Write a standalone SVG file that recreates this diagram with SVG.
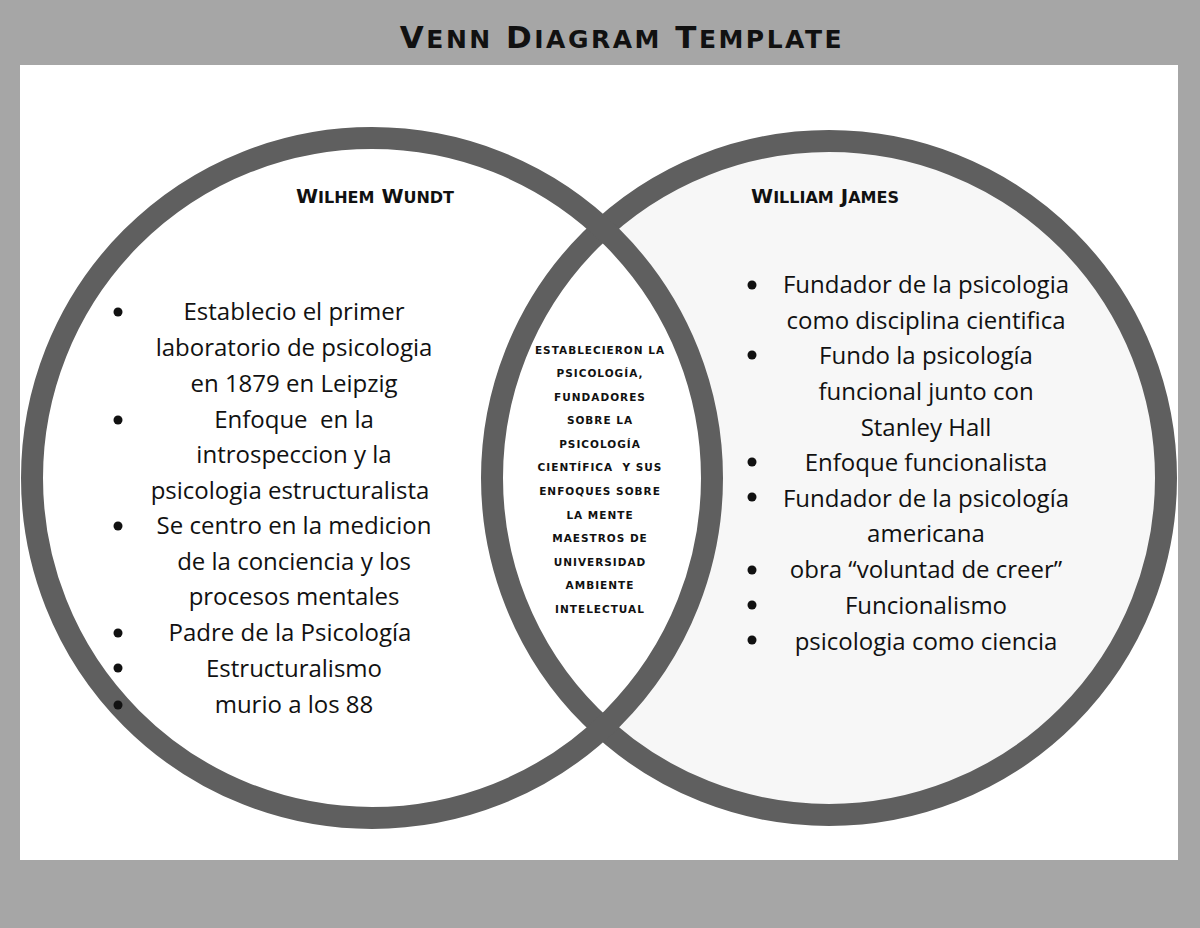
<svg xmlns="http://www.w3.org/2000/svg" width="1200" height="928" viewBox="0 0 1200 928">
<style>
.h{font-family:"DejaVu Sans",sans-serif;font-weight:bold;fill:#111;text-anchor:middle}
.t{font-family:"Open Sans",sans-serif;font-size:24px;fill:#111;text-anchor:middle}
.c{font-family:"DejaVu Sans",sans-serif;font-weight:bold;font-size:10.5px;letter-spacing:1px;fill:#111;text-anchor:middle}
.b{fill:#111}
.ring{fill:none;stroke:#5f5f5f;stroke-width:22}
</style>
<rect width="1200" height="928" fill="#a6a6a6"/>
<rect x="20" y="65" width="1158" height="795" fill="#fff"/>
<text class="h" x="622" y="48" font-size="31" letter-spacing="2.5">V<tspan font-size="25">ENN</tspan> D<tspan font-size="25">IAGRAM</tspan> T<tspan font-size="25">EMPLATE</tspan></text>
<circle cx="829" cy="478" r="337" fill="#f7f7f7"/>
<path d="M601,228 A340,340 0 0 1 601,728 A337,337 0 0 1 601,228 Z" fill="#fff"/>
<g id="right-circle"><circle class="ring" cx="829" cy="478" r="337"/></g>
<g id="left-circle"><circle class="ring" cx="372" cy="478" r="340"/></g>
<g id="wundt">
<text class="h" x="375" y="203" font-size="20">W<tspan font-size="16">ILHEM</tspan> W<tspan font-size="16">UNDT</tspan></text>
<g class="b"><circle cx="118" cy="312" r="4.5"/><circle cx="118" cy="420" r="4.5"/><circle cx="118" cy="526" r="4.5"/><circle cx="118" cy="633" r="4.5"/><circle cx="118" cy="668" r="4.5"/><circle cx="118" cy="705" r="4.5"/></g>
<text class="t" x="294" y="320">Establecio el primer</text>
<text class="t" x="294" y="356">laboratorio de psicologia</text>
<text class="t" x="294" y="392">en 1879 en Leipzig</text>
<text class="t" x="294" y="428" xml:space="preserve">Enfoque  en la</text>
<text class="t" x="294" y="463">introspeccion y la</text>
<text class="t" x="290" y="499">psicologia estructuralista</text>
<text class="t" x="294" y="534">Se centro en la medicion</text>
<text class="t" x="294" y="570">de la conciencia y los</text>
<text class="t" x="294" y="605">procesos mentales</text>
<text class="t" x="290" y="641">Padre de la Psicología</text>
<text class="t" x="294" y="677">Estructuralismo</text>
<text class="t" x="294" y="713">murio a los 88</text>
</g>
<g id="james">
<text class="h" x="825" y="203" font-size="20">W<tspan font-size="16">ILLIAM</tspan> J<tspan font-size="16">AMES</tspan></text>
<g class="b"><circle cx="752" cy="285" r="4.5"/><circle cx="752" cy="355" r="4.5"/><circle cx="752" cy="462" r="4.5"/><circle cx="752" cy="497" r="4.5"/><circle cx="752" cy="570" r="4.5"/><circle cx="752" cy="605" r="4.5"/><circle cx="752" cy="640" r="4.5"/></g>
<text class="t" x="926" y="293">Fundador de la psicologia</text>
<text class="t" x="926" y="329">como disciplina cientifica</text>
<text class="t" x="926" y="364">Fundo la psicología</text>
<text class="t" x="926" y="400">funcional junto con</text>
<text class="t" x="926" y="436">Stanley Hall</text>
<text class="t" x="926" y="471">Enfoque funcionalista</text>
<text class="t" x="926" y="507">Fundador de la psicología</text>
<text class="t" x="926" y="542">americana</text>
<text class="t" x="926" y="578">obra “voluntad de creer”</text>
<text class="t" x="926" y="614">Funcionalismo</text>
<text class="t" x="926" y="650">psicologia como ciencia</text>
</g>
<g id="both">
<text class="c" x="600" y="354">ESTABLECIERON LA</text>
<text class="c" x="600" y="377">PSICOLOGÍA,</text>
<text class="c" x="600" y="401">FUNDADORES</text>
<text class="c" x="600" y="424">SOBRE LA</text>
<text class="c" x="600" y="448">PSICOLOGÍA</text>
<text class="c" x="600" y="471" xml:space="preserve">CIENTÍFICA  Y SUS</text>
<text class="c" x="600" y="495">ENFOQUES SOBRE</text>
<text class="c" x="600" y="519">LA MENTE</text>
<text class="c" x="600" y="542">MAESTROS DE</text>
<text class="c" x="600" y="566">UNIVERSIDAD</text>
<text class="c" x="600" y="589">AMBIENTE</text>
<text class="c" x="600" y="613">INTELECTUAL</text>
</g>
</svg>
